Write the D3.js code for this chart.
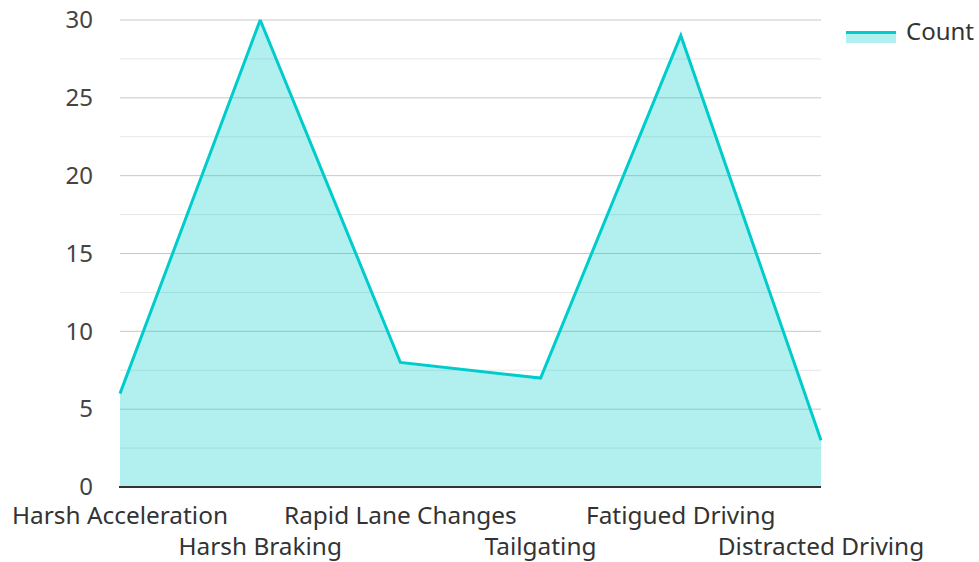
<!DOCTYPE html>
<html>
<head>
<meta charset="utf-8">
<script src="https://cdn.jsdelivr.net/npm/d3@7"></script>
<style>
  html, body { margin: 0; padding: 0; background: #fff; }
  svg { display: block; font-family: "Noto Sans", "Open Sans", sans-serif; }
</style>
</head>
<body>
<svg id="chart" width="979" height="562"></svg>
<script>
// Driving behaviour event counts
const categories = ["Harsh Acceleration", "Harsh Braking", "Rapid Lane Changes", "Tailgating", "Fatigued Driving", "Distracted Driving"];
const counts = [6, 30, 8, 7, 29, 3];
const yTicks = [0, 5, 10, 15, 20, 25, 30];
const yMinorTicks = [2.5, 7.5, 12.5, 17.5, 22.5, 27.5];
const seriesName = "Count";

const color = "#00cccc";
const fontSize = 24;
const svg = d3.select("#chart");
const margin = { left: 120, right: 158, top: 20, bottom: 75 };
const width = 979, height = 562;

const x = d3.scalePoint().domain(categories).range([margin.left, width - margin.right]);
const y = d3.scaleLinear().domain([0, 30]).range([height - margin.bottom, margin.top]);

// plot area clip
svg.append("defs").append("clipPath").attr("id", "plot-clip")
  .append("rect")
  .attr("x", margin.left - 3).attr("y", margin.top - 0.5)
  .attr("width", width - margin.left - margin.right + 6)
  .attr("height", height - margin.top - margin.bottom + 1);

// grid lines
svg.append("g").selectAll("line.minor").data(yMinorTicks).join("line")
  .attr("x1", margin.left).attr("x2", width - margin.right)
  .attr("y1", d => y(d)).attr("y2", d => y(d))
  .attr("stroke", "#e6e6e6").attr("stroke-width", 1);
svg.append("g").selectAll("line.major").data(yTicks.filter(d => d > 0)).join("line")
  .attr("x1", margin.left).attr("x2", width - margin.right)
  .attr("y1", d => y(d)).attr("y2", d => y(d))
  .attr("stroke", "#c8c8c8").attr("stroke-width", 1);

const data = categories.map((c, i) => ({ c, v: counts[i] }));

// area + line
const plot = svg.append("g").attr("clip-path", "url(#plot-clip)");
plot.append("path").datum(data)
  .attr("d", d3.area().x(d => x(d.c)).y0(y(0)).y1(d => y(d.v)))
  .attr("fill", color).attr("fill-opacity", 0.3);
plot.append("path").datum(data)
  .attr("d", d3.line().x(d => x(d.c)).y(d => y(d.v)))
  .attr("fill", "none").attr("stroke", color).attr("stroke-width", 3)
  .attr("stroke-linejoin", "miter");

// y axis labels
const yAxis = d3.axisLeft(y).tickValues(yTicks).tickSize(0).tickPadding(27);
const gy = svg.append("g").attr("transform", `translate(${margin.left},0)`).call(yAxis);
gy.select(".domain").remove();
gy.selectAll("text").attr("font-size", fontSize).attr("fill", "#444")
  .attr("font-family", "Noto Sans, Open Sans, sans-serif");

// x axis line
svg.append("line")
  .attr("x1", margin.left - 1).attr("x2", width - margin.right)
  .attr("y1", y(0)).attr("y2", y(0))
  .attr("stroke", "#333").attr("stroke-width", 2);

// x labels on alternating rows
svg.append("g").selectAll("text").data(categories).join("text")
  .attr("x", d => x(d))
  .attr("y", (d, i) => i % 2 === 0 ? 524 : 555)
  .attr("text-anchor", "middle")
  .attr("font-size", 24.4).attr("fill", "#333")
  .text(d => d);

// legend
const lg = svg.append("g").attr("transform", "translate(846,31)");
lg.append("rect").attr("x", 0).attr("y", 0).attr("width", 50).attr("height", 12)
  .attr("fill", color).attr("fill-opacity", 0.3);
lg.append("line").attr("x1", 0).attr("x2", 50).attr("y1", 1.5).attr("y2", 1.5)
  .attr("stroke", color).attr("stroke-width", 3);
lg.append("text").attr("x", 60).attr("y", 9).attr("font-size", fontSize).attr("fill", "#333")
  .text(seriesName);
</script>
</body>
</html>
